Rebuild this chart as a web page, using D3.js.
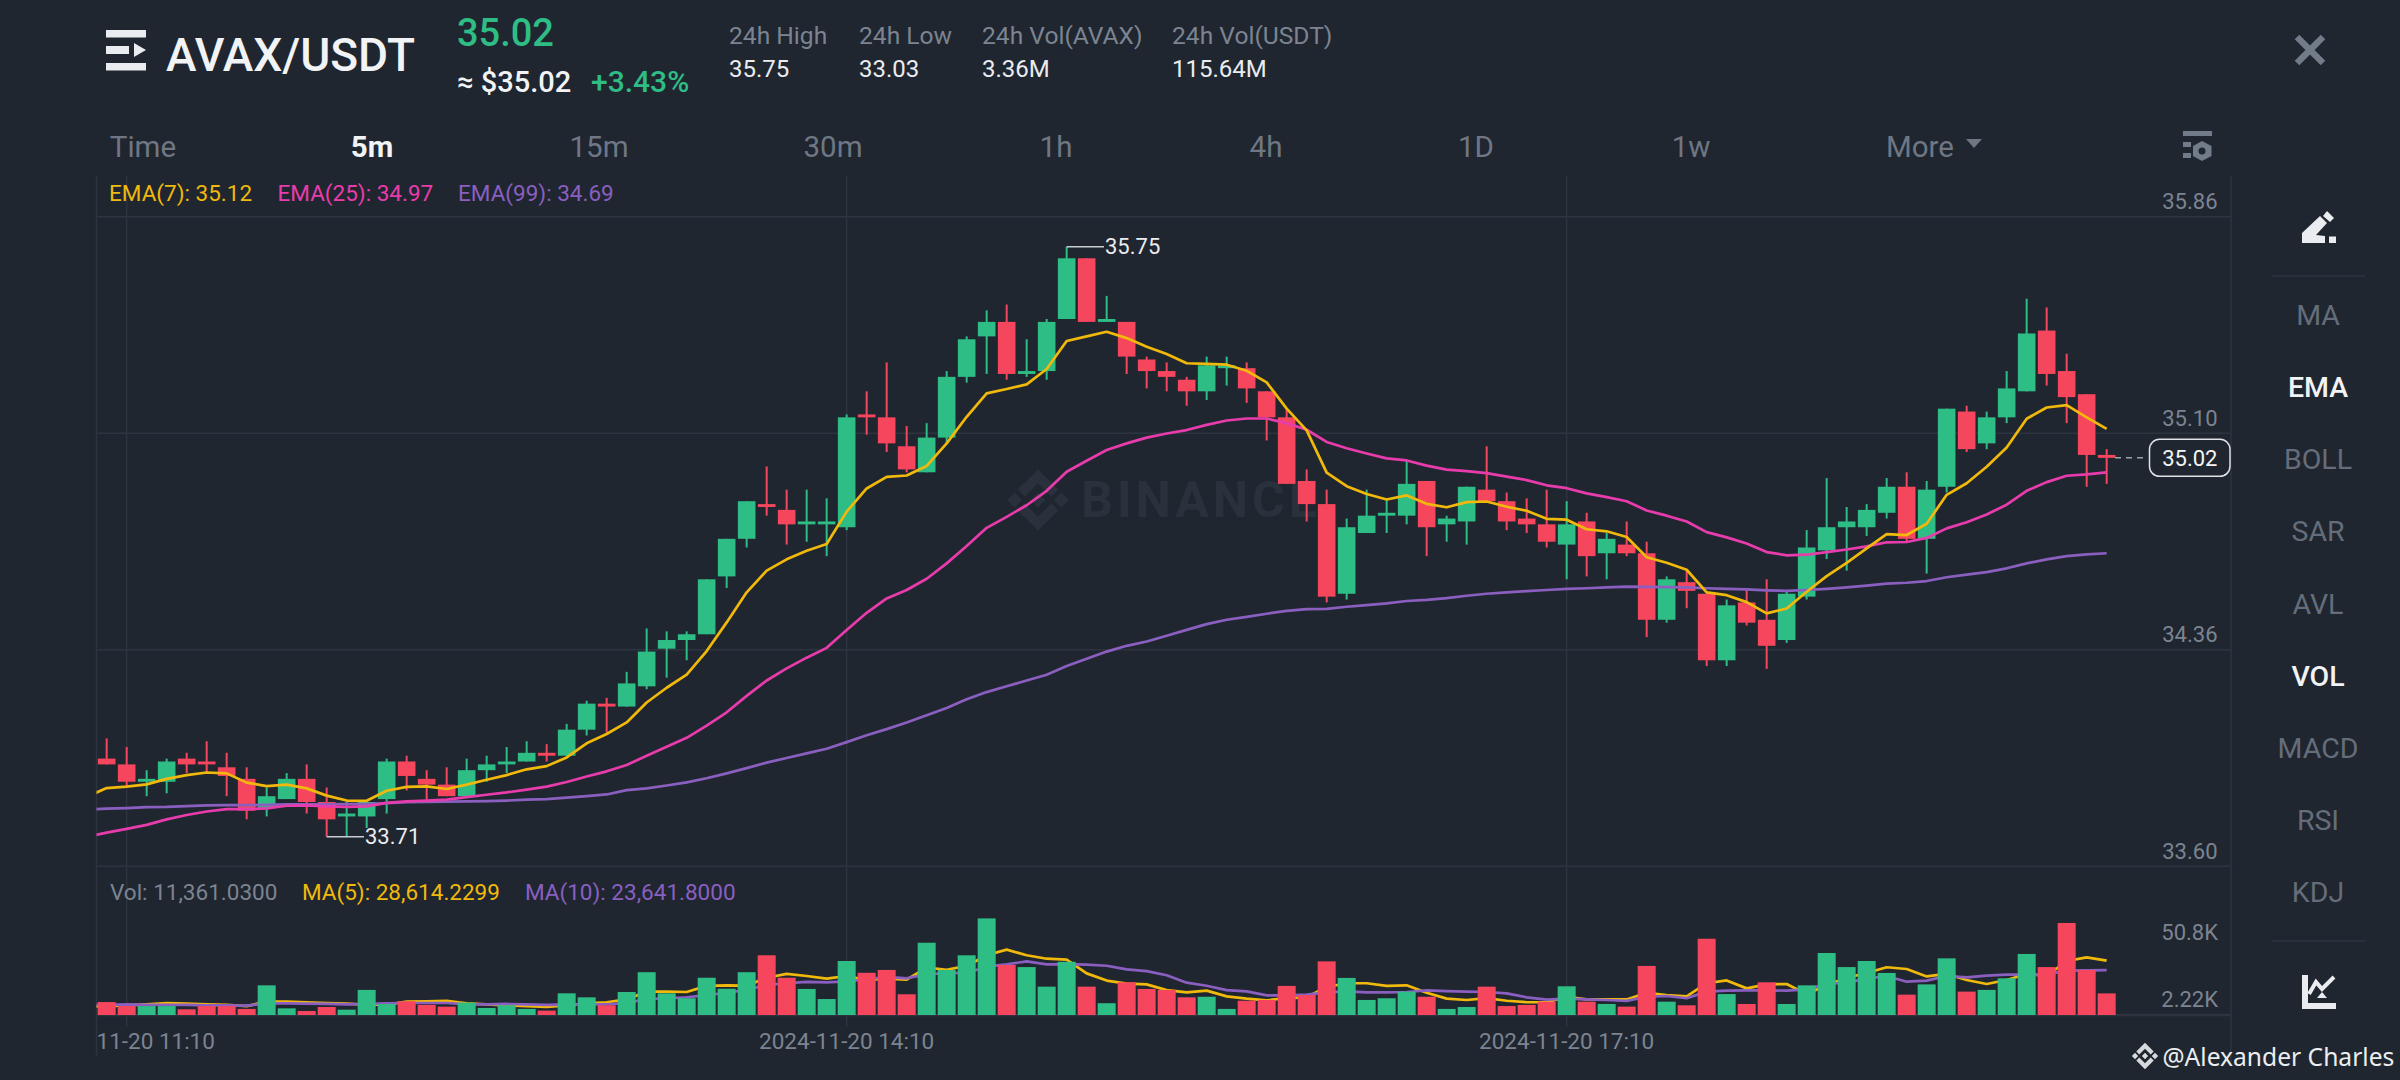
<!DOCTYPE html>
<html lang="en">
<head>
<meta charset="utf-8">
<title>AVAX/USDT 5m</title>
<script src="https://cdn.jsdelivr.net/npm/d3@7/dist/d3.min.js"></script>
<style>
  html, body { margin: 0; padding: 0; background: #1f2630; overflow: hidden; }
  svg { display: block; }
  text { font-family: Roboto, sans-serif; }
</style>
</head>
<body>
<svg id="chart" width="2400" height="1080"></svg>
<script>
// Candles, one every five minutes from 11-20 11:05
const opens = [33.98,33.96,33.90,33.90,33.98,33.97,33.95,33.91,33.81,33.84,33.91,33.83,33.78,33.78,33.84,33.97,33.91,33.89,33.85,33.94,33.96,33.97,34.00,33.99,34.08,34.17,34.16,34.23,34.36,34.39,34.41,34.61,34.74,34.86,34.84,34.79,34.79,34.78,35.17,35.16,35.06,34.97,35.09,35.30,35.44,35.49,35.31,35.32,35.50,35.71,35.49,35.49,35.36,35.32,35.29,35.25,35.33,35.33,35.25,35.16,34.94,34.86,34.55,34.76,34.82,34.82,34.94,34.79,34.80,34.91,34.87,34.81,34.79,34.72,34.80,34.69,34.72,34.69,34.46,34.59,34.55,34.32,34.52,34.46,34.39,34.54,34.70,34.78,34.78,34.83,34.92,34.74,34.92,35.18,35.07,35.16,35.25,35.46,35.32,35.24,35.03];
const highs = [34.05,34.02,33.94,33.98,34.00,34.04,34.00,33.95,33.88,33.93,33.96,33.88,33.83,33.83,33.98,33.99,33.94,33.95,33.98,33.99,34.02,34.04,34.03,34.10,34.18,34.19,34.28,34.43,34.42,34.42,34.60,34.74,34.87,34.99,34.91,34.91,34.88,35.17,35.25,35.35,35.13,35.14,35.32,35.44,35.53,35.55,35.43,35.50,35.75,35.71,35.58,35.49,35.37,35.35,35.30,35.37,35.37,35.35,35.25,35.19,34.98,34.91,34.81,34.91,34.88,35.01,34.94,34.82,34.92,35.06,34.90,34.88,34.91,34.87,34.83,34.76,34.80,34.73,34.61,34.63,34.55,34.53,34.57,34.60,34.56,34.77,34.95,34.85,34.86,34.95,34.97,34.94,35.19,35.20,35.18,35.32,35.57,35.54,35.38,35.24,35.05];
const lows = [33.96,33.88,33.85,33.86,33.93,33.93,33.85,33.77,33.78,33.84,33.79,33.71,33.71,33.74,33.79,33.87,33.83,33.85,33.85,33.90,33.93,33.97,33.97,33.99,34.06,34.07,34.16,34.22,34.26,34.32,34.41,34.57,34.71,34.82,34.72,34.73,34.68,34.77,35.10,35.04,34.97,34.97,35.07,35.28,35.31,35.29,35.30,35.29,35.50,35.49,35.49,35.31,35.26,35.25,35.20,35.22,35.27,35.21,35.08,34.93,34.80,34.52,34.53,34.76,34.76,34.79,34.68,34.73,34.72,34.87,34.77,34.76,34.71,34.60,34.61,34.60,34.68,34.40,34.45,34.50,34.30,34.30,34.44,34.29,34.38,34.53,34.67,34.63,34.75,34.81,34.73,34.62,34.90,35.04,35.05,35.14,35.25,35.27,35.14,34.92,34.93];
const closes = [33.96,33.90,33.91,33.97,33.96,33.96,33.92,33.80,33.85,33.91,33.83,33.77,33.79,33.83,33.97,33.92,33.89,33.85,33.94,33.96,33.97,34.00,33.99,34.08,34.17,34.16,34.24,34.35,34.39,34.41,34.60,34.74,34.87,34.85,34.79,34.80,34.80,35.16,35.16,35.07,34.98,35.09,35.30,35.43,35.49,35.31,35.32,35.49,35.71,35.49,35.50,35.37,35.32,35.30,35.25,35.34,35.34,35.26,35.16,34.93,34.86,34.54,34.78,34.82,34.83,34.93,34.78,34.81,34.92,34.87,34.80,34.79,34.73,34.79,34.68,34.74,34.69,34.46,34.60,34.56,34.32,34.51,34.45,34.37,34.55,34.71,34.78,34.80,34.84,34.92,34.74,34.91,35.19,35.05,35.16,35.26,35.45,35.31,35.23,35.03,35.02];

// Moving averages; each list starts one candle before the first one shown
const ema7 = [33.848,33.878,33.883,33.891,33.910,33.923,33.932,33.929,33.897,33.885,33.890,33.877,33.852,33.835,33.834,33.869,33.882,33.884,33.875,33.890,33.907,33.923,33.943,33.954,33.984,34.033,34.065,34.105,34.174,34.225,34.270,34.352,34.451,34.555,34.630,34.669,34.699,34.722,34.834,34.914,34.954,34.959,34.992,35.070,35.162,35.243,35.258,35.274,35.327,35.424,35.440,35.456,35.434,35.404,35.379,35.347,35.345,35.342,35.321,35.281,35.190,35.115,34.969,34.922,34.895,34.876,34.890,34.861,34.849,34.867,34.869,34.851,34.837,34.809,34.806,34.773,34.766,34.746,34.676,34.657,34.633,34.555,34.545,34.521,34.482,34.499,34.557,34.611,34.657,34.707,34.756,34.753,34.792,34.892,34.932,34.989,35.056,35.155,35.194,35.202,35.160,35.12];
const ema25 = [33.710,33.724,33.737,33.751,33.770,33.785,33.797,33.805,33.805,33.808,33.817,33.818,33.815,33.813,33.815,33.827,33.832,33.835,33.838,33.847,33.855,33.863,33.873,33.883,33.899,33.918,33.936,33.958,33.990,34.021,34.052,34.094,34.140,34.197,34.250,34.292,34.329,34.363,34.425,34.484,34.534,34.563,34.602,34.655,34.715,34.778,34.816,34.856,34.906,34.972,35.010,35.047,35.070,35.090,35.104,35.116,35.134,35.149,35.156,35.156,35.140,35.117,35.075,35.053,35.035,35.018,35.011,34.993,34.979,34.974,34.967,34.955,34.943,34.925,34.915,34.897,34.884,34.870,34.838,34.820,34.800,34.763,34.745,34.724,34.694,34.683,34.685,34.694,34.703,34.714,34.728,34.729,34.743,34.776,34.797,34.824,34.858,34.906,34.936,34.958,34.963,34.97];
const ema99 = [33.804,33.807,33.809,33.812,33.813,33.816,33.818,33.819,33.819,33.820,33.822,33.822,33.822,33.823,33.823,33.826,33.829,33.830,33.831,33.832,33.833,33.835,33.838,33.840,33.845,33.850,33.856,33.871,33.877,33.887,33.898,33.912,33.929,33.947,33.966,33.982,33.998,34.014,34.037,34.061,34.082,34.105,34.130,34.155,34.185,34.210,34.230,34.250,34.270,34.300,34.325,34.350,34.370,34.385,34.405,34.425,34.445,34.460,34.470,34.481,34.491,34.497,34.498,34.505,34.511,34.517,34.525,34.529,34.535,34.543,34.550,34.555,34.559,34.563,34.567,34.569,34.572,34.575,34.574,34.573,34.572,34.569,34.567,34.565,34.562,34.560,34.563,34.567,34.572,34.578,34.585,34.588,34.594,34.607,34.616,34.625,34.638,34.655,34.669,34.680,34.686,34.69];

// Volume per candle and its averages, in thousands of AVAX
const volumes = [6.8,4.7,4.7,4.7,3.0,4.7,4.7,3.2,15.6,3.5,2.1,4.2,2.8,13.2,5.8,7.2,5.3,4.4,6.5,3.7,5.1,3.2,2.3,11.4,9.3,5.1,12.1,22.5,11.4,8.8,19.6,13.8,22.5,31.4,19.6,13.7,8.4,28.4,22.2,23.7,10.9,38.0,23.7,31.4,50.8,26.3,25.2,14.9,28.0,14.9,6.2,17.2,13.7,13.2,9.3,9.6,3.2,7.5,7.9,15.3,10.5,28.2,19.5,7.9,8.8,12.3,9.6,3.2,4.2,14.9,4.7,5.3,7.0,15.1,7.0,5.8,4.4,25.8,7.0,5.1,40.1,11.0,5.8,17.2,5.8,15.6,32.6,25.2,28.4,22.1,10.7,16.1,29.8,12.3,13.2,19.3,32.1,25.2,48.4,23.7,11.361];
const volMa5 = [4.4,4.7,5.1,5.6,6.3,6.0,5.6,5.4,4.7,7.0,7.0,6.7,6.3,6.0,5.4,5.4,7.0,7.2,7.5,6.1,5.6,5.1,4.7,4.2,5.1,6.1,6.7,8.2,12.3,12.3,12.1,15.3,15.6,15.4,19.6,21.6,20.5,19.1,20.5,18.4,19.1,18.6,24.9,23.8,25.8,31.4,34.4,31.4,29.6,29.1,21.9,18.1,16.5,16.1,13.1,11.9,12.8,9.8,8.6,7.7,8.9,9.3,14.7,16.7,16.7,15.3,15.6,11.7,8.6,7.9,8.9,7.5,6.7,6.8,9.5,8.2,8.2,8.2,11.7,10.5,9.8,16.7,18.2,14.0,16.1,16.3,11.0,15.6,19.6,22.1,25.1,24.2,20.3,21.6,18.4,16.3,18.4,21.6,20.5,28.4,30.3,28.614];
const volMa10 = [5.3,5.4,5.6,5.4,5.4,5.3,5.1,5.1,4.9,6.1,6.1,6.0,5.8,5.6,5.8,6.1,6.3,6.3,6.3,5.6,5.6,5.8,5.6,5.3,5.6,5.6,5.6,6.3,8.4,8.8,9.3,10.5,11.6,13.3,15.8,16.7,17.4,17.2,17.7,18.8,20.0,19.3,21.4,22.1,22.1,25.4,26.6,28.2,26.6,26.8,26.5,25.9,24.0,23.1,20.9,17.0,15.4,13.1,12.4,10.3,10.3,10.7,11.9,12.4,11.9,11.9,12.1,13.0,12.6,12.3,12.1,11.4,9.3,8.1,8.6,8.2,7.9,7.4,9.6,10.0,8.8,12.3,12.8,13.0,13.0,12.8,13.5,16.3,17.0,19.1,20.5,17.5,18.1,20.5,19.8,20.7,21.2,21.2,21.4,23.3,23.5,23.642];

// Axis labels and header text
const priceTicks = ["35.86", "35.10", "34.36", "33.60"];
const volumeTicks = [50.8, 2.22];
const timeTicks = [[1, "11-20 11:10"], [37, "2024-11-20 14:10"], [73, "2024-11-20 17:10"]];
const intervals = ["Time", "5m", "15m", "30m", "1h", "4h", "1D", "1w", "More"];
const intervalCenters = [143, 372, 599, 833, 1056, 1266, 1476, 1691, 1920];
const indicators = ["MA", "EMA", "BOLL", "SAR", "AVL", "VOL", "MACD", "RSI", "KDJ"];
const activeIndicators = ["EMA", "VOL"];
const stats = [["24h High", "35.75", 729], ["24h Low", "33.03", 859], ["24h Vol(AVAX)", "3.36M", 982], ["24h Vol(USDT)", "115.64M", 1172]];

const UP = "#2ebd85", DOWN = "#f6465d", GRID = "#2d3440";
const YELLOW = "#f0b90b", PINK = "#e93cac", PURPLE = "#8a5fc0";
const MUTED = "#7c8491", LIGHT = "#eaecef";

const svg = d3.select("#chart");
const plot = { left: 96.5, right: 2231, top: 176, paneBottom: 866.3, volBase: 1015 };

const idx = d3.range(opens.length);
const x = d3.scaleLinear().domain([0, 100]).range([106.67, 2106.67]);
const y = d3.scaleLinear().domain([33.60, 35.86]).range([868.5, 214.9]);
const gridY = d3.scalePoint().domain(priceTicks).range([216.7, 866.3]);
const yVol = d3.scaleLinear().domain([0, 50.8]).range([plot.volBase, 918.4]);
const BODY = 17.6;

svg.append("defs").append("clipPath").attr("id", "plotClip").append("rect")
  .attr("x", plot.left).attr("y", 0).attr("width", plot.right - plot.left).attr("height", 1080);

// Rotated-square mark used for the exchange logo
function logoMark(parent, cx, cy, s, fill) {
  const g = parent.append("g").attr("transform", `translate(${cx},${cy}) rotate(45)`).attr("fill", fill);
  const u = s / 5;
  g.append("rect").attr("x", -u * 0.75).attr("y", -u * 0.75).attr("width", u * 1.5).attr("height", u * 1.5);
  g.append("rect").attr("x", -u * 3.1).attr("y", u * 1.6).attr("width", u * 1.5).attr("height", u * 1.5);
  g.append("rect").attr("x", u * 1.6).attr("y", -u * 3.1).attr("width", u * 1.5).attr("height", u * 1.5);
  g.append("path").attr("d", `M${-u * 3.1},${-u * 3.1}H${u * 1.0}V${-u * 1.7}H${-u * 1.7}V${u * 1.0}H${-u * 3.1}Z`);
  g.append("path").attr("d", `M${u * 3.1},${u * 3.1}H${-u * 1.0}V${u * 1.7}H${u * 1.7}V${-u * 1.0}H${u * 3.1}Z`);
  return g;
}

// ---- Grid ----
const grid = svg.append("g").attr("stroke", GRID).attr("stroke-width", 1.5);
grid.selectAll(".h").data(priceTicks).join("line")
  .attr("x1", plot.left).attr("x2", plot.right)
  .attr("y1", d => gridY(d)).attr("y2", d => gridY(d));
grid.selectAll(".v").data(timeTicks).join("line")
  .attr("x1", d => x(d[0])).attr("x2", d => x(d[0]))
  .attr("y1", plot.top).attr("y2", 1027);
grid.append("line").attr("x1", plot.left).attr("x2", plot.left).attr("y1", plot.top).attr("y2", 1056);
grid.append("line").attr("x1", plot.right).attr("x2", plot.right).attr("y1", plot.top).attr("y2", 1062);
grid.append("line").attr("x1", plot.left).attr("x2", plot.right)
  .attr("y1", plot.volBase).attr("y2", plot.volBase).attr("stroke-width", 2.5);

// ---- Watermark behind the candles ----
logoMark(svg, 1038, 500, 35, "#2a313c");
svg.append("text").attr("x", 1081).attr("y", 500).attr("dominant-baseline", "central")
  .attr("font-size", 50).attr("font-weight", 700).attr("letter-spacing", 4).attr("fill", "#2a313c").text("BINANCE");

// ---- Candles ----
const colorOf = i => closes[i] >= opens[i] ? UP : DOWN;
const candles = svg.append("g").selectAll("g").data(idx).join("g").attr("fill", colorOf).attr("stroke", colorOf);
candles.append("line").attr("stroke-width", 2)
  .attr("x1", x).attr("x2", x)
  .attr("y1", i => y(highs[i])).attr("y2", i => y(lows[i]));
candles.append("rect").attr("stroke", "none")
  .attr("x", i => x(i) - BODY / 2).attr("width", BODY)
  .attr("y", i => y(Math.max(opens[i], closes[i])))
  .attr("height", i => Math.max(2.6, Math.abs(y(opens[i]) - y(closes[i]))));

// ---- EMA lines ----
const priceLine = d3.line().x((d, i) => x(i - 1)).y(d => y(d));
const lines = svg.append("g").attr("clip-path", "url(#plotClip)").attr("fill", "none").attr("stroke-linejoin", "round");
[[ema99, PURPLE], [ema25, PINK], [ema7, YELLOW]].forEach(([s, c]) => {
  lines.append("path").attr("d", priceLine(s)).attr("stroke", c).attr("stroke-width", 2.7);
});

// ---- Volume pane ----
svg.append("g").selectAll("rect").data(idx).join("rect")
  .attr("x", i => x(i) - 9).attr("width", 18)
  .attr("y", i => yVol(volumes[i]))
  .attr("height", i => yVol(0) - yVol(volumes[i]))
  .attr("fill", colorOf);
const volLine = d3.line().x((d, i) => x(i - 1)).y(d => yVol(d));
[[volMa5, YELLOW], [volMa10, PURPLE]].forEach(([s, c]) => {
  lines.append("path").attr("d", volLine(s)).attr("stroke", c).attr("stroke-width", 2.7);
});

// ---- Axis labels ----
const mid = (sel) => sel.attr("dominant-baseline", "central");
svg.append("g").selectAll("text").data(priceTicks).join("text").call(mid)
  .attr("x", 2217.5).attr("y", d => gridY(d) - 15)
  .attr("text-anchor", "end").attr("font-size", 22).attr("fill", MUTED).text(d => d);
svg.append("text").call(mid).attr("x", 2218).attr("y", yVol(volumeTicks[0]) + 14)
  .attr("text-anchor", "end").attr("font-size", 22).attr("fill", MUTED).text("50.8K");
svg.append("text").call(mid).attr("x", 2218).attr("y", yVol(volumeTicks[1]) - 11)
  .attr("text-anchor", "end").attr("font-size", 22).attr("fill", MUTED).text("2.22K");
svg.append("g").selectAll("text").data(timeTicks).join("text").call(mid)
  .attr("x", (d, i) => i === 0 ? 96.5 : x(d[0])).attr("y", 1040.5)
  .attr("text-anchor", (d, i) => i === 0 ? "start" : "middle")
  .attr("font-size", 22.5).attr("fill", MUTED).text(d => d[1]);

// ---- High, low and last-price annotations ----
const hiIdx = highs.indexOf(d3.max(highs)), loIdx = lows.indexOf(d3.min(lows));
const note = svg.append("g").attr("stroke", "#c9cdd2").attr("stroke-width", 1.5).attr("fill", "none");
note.append("line").attr("x1", x(hiIdx)).attr("x2", 1104).attr("y1", y(35.75)).attr("y2", y(35.75));
note.append("line").attr("x1", x(loIdx)).attr("x2", 364).attr("y1", y(33.71)).attr("y2", y(33.71));
svg.append("text").call(mid).attr("x", 1105).attr("y", y(35.75)).attr("font-size", 22).attr("fill", LIGHT).text("35.75");
svg.append("text").call(mid).attr("x", 365).attr("y", y(33.71)).attr("font-size", 22).attr("fill", LIGHT).text("33.71");
const lastY = y(closes[100]);
svg.append("line").attr("x1", 2115).attr("x2", 2143).attr("y1", lastY).attr("y2", lastY)
  .attr("stroke", "#9aa1ab").attr("stroke-width", 1.5).attr("stroke-dasharray", "6 5");
svg.append("rect").attr("x", 2149.5).attr("y", lastY - 18.5).attr("width", 80.5).attr("height", 37)
  .attr("rx", 10).attr("fill", "#1f2630").attr("stroke", "#dfe2e6").attr("stroke-width", 1.5);
svg.append("text").call(mid).attr("x", 2189.8).attr("y", lastY + 0.5).attr("text-anchor", "middle")
  .attr("font-size", 22).attr("fill", "#f3f4f6").text(closes[100].toFixed(2));

// ---- Legends ----
const legend = (items, yPos) => svg.append("g").selectAll("text").data(items).join("text").call(mid)
  .attr("x", d => d[1]).attr("y", yPos).attr("font-size", 22.5).attr("fill", d => d[2]).text(d => d[0]);
legend([["EMA(7): 35.12", 109, YELLOW], ["EMA(25): 34.97", 277.5, PINK], ["EMA(99): 34.69", 458, PURPLE]], 192.7);
legend([["Vol: 11,361.0300", 110, MUTED], ["MA(5): 28,614.2299", 302, YELLOW], ["MA(10): 23,641.8000", 525, PURPLE]], 892);

// ---- Header ----
const menu = svg.append("g").attr("fill", LIGHT);
menu.append("rect").attr("x", 106).attr("y", 30).attr("width", 40).attr("height", 7.5);
menu.append("rect").attr("x", 106).attr("y", 46).attr("width", 23).attr("height", 8);
menu.append("path").attr("d", "M134,43L146,50L134,57Z");
menu.append("rect").attr("x", 106).attr("y", 63).attr("width", 40).attr("height", 7.5);

svg.append("text").call(mid).attr("x", 166).attr("y", 55).attr("font-size", 46).attr("font-weight", 500).attr("fill", "#f1f3f5").text("AVAX/USDT");
svg.append("text").call(mid).attr("x", 457).attr("y", 33).attr("font-size", 38).attr("font-weight", 500).attr("fill", UP).text("35.02");
svg.append("text").call(mid).attr("x", 457).attr("y", 81.5).attr("font-size", 29).attr("font-weight", 500).attr("fill", "#f1f3f5").text("≈ $35.02");
svg.append("text").call(mid).attr("x", 591).attr("y", 81.5).attr("font-size", 30).attr("font-weight", 500).attr("fill", UP).text("+3.43%");

const statRows = svg.append("g").selectAll("g").data(stats).join("g");
statRows.append("text").call(mid).attr("x", d => d[2]).attr("y", 35).attr("font-size", 24.6).attr("fill", MUTED).text(d => d[0]);
statRows.append("text").call(mid).attr("x", d => d[2]).attr("y", 69).attr("font-size", 24).attr("fill", LIGHT).text(d => d[1]);

svg.append("g").selectAll("text").data(intervals).join("text").call(mid)
  .attr("x", (d, i) => intervalCenters[i]).attr("y", 147).attr("text-anchor", "middle")
  .attr("font-size", 29.5).attr("font-weight", d => d === "5m" ? 700 : 400)
  .attr("fill", d => d === "5m" ? "#f1f3f5" : "#6f7784").text(d => d);
svg.append("path").attr("d", "M1966,139H1982L1974,148Z").attr("fill", "#6f7784");

// Pane settings icon
const gear = svg.append("g").attr("fill", "#727b89");
gear.append("rect").attr("x", 2183).attr("y", 131).attr("width", 29).attr("height", 5);
gear.append("rect").attr("x", 2183).attr("y", 142).attr("width", 8).attr("height", 5);
gear.append("rect").attr("x", 2183).attr("y", 153).attr("width", 8).attr("height", 5);
gear.append("path").attr("d", "M2202,141L2211.5,146V156L2202,161L2193,156V146Z");
gear.append("circle").attr("cx", 2202).attr("cy", 151).attr("r", 3.5).attr("fill", "#1f2630");

// Close button
svg.append("path").attr("d", "M2297,37L2323,63M2323,37L2297,63").attr("stroke", "#727b89").attr("stroke-width", 6.5).attr("fill", "none");

// ---- Right tool rail ----
svg.append("g").selectAll("text").data(indicators).join("text").call(mid)
  .attr("x", 2318).attr("y", (d, i) => 315.3 + i * 72.2).attr("text-anchor", "middle")
  .attr("font-size", 28.5).attr("font-weight", d => activeIndicators.includes(d) ? 500 : 400)
  .attr("fill", d => activeIndicators.includes(d) ? "#f1f3f5" : "#656d7a").text(d => d);
svg.append("g").attr("stroke", GRID).attr("stroke-width", 1.5).selectAll("line").data([276, 941]).join("line")
  .attr("x1", 2272).attr("x2", 2365).attr("y1", d => d).attr("y2", d => d);

const pencil = svg.append("g").attr("fill", LIGHT);
pencil.append("path").attr("d", "M2302,243V233L2320,216L2327,223L2316,235L2325,236V243Z");
pencil.append("path").attr("d", "M2323,216L2327,211L2334,218L2330,222Z");
pencil.append("rect").attr("x", 2329).attr("y", 236.5).attr("width", 7).attr("height", 6.5);

const trend = svg.append("g");
trend.append("path").attr("d", "M2302,975H2308V1003H2336V1009H2302Z").attr("fill", LIGHT);
trend.append("path").attr("d", "M2309,994L2316,982L2322,989L2334,977").attr("stroke", LIGHT).attr("stroke-width", 4).attr("fill", "none");
trend.append("path").attr("d", "M2317,998L2322,992L2327,998Z").attr("fill", LIGHT);

// ---- Signature ----
logoMark(svg, 2145, 1056, 15, "#d8dadd");
svg.append("text").call(mid).attr("x", 2162.5).attr("y", 1056.5)
  .style("font-family", "'Noto Sans', sans-serif").attr("font-size", 24.6).attr("fill", "#eceef0").text("@Alexander Charles");
</script>
</body>
</html>
